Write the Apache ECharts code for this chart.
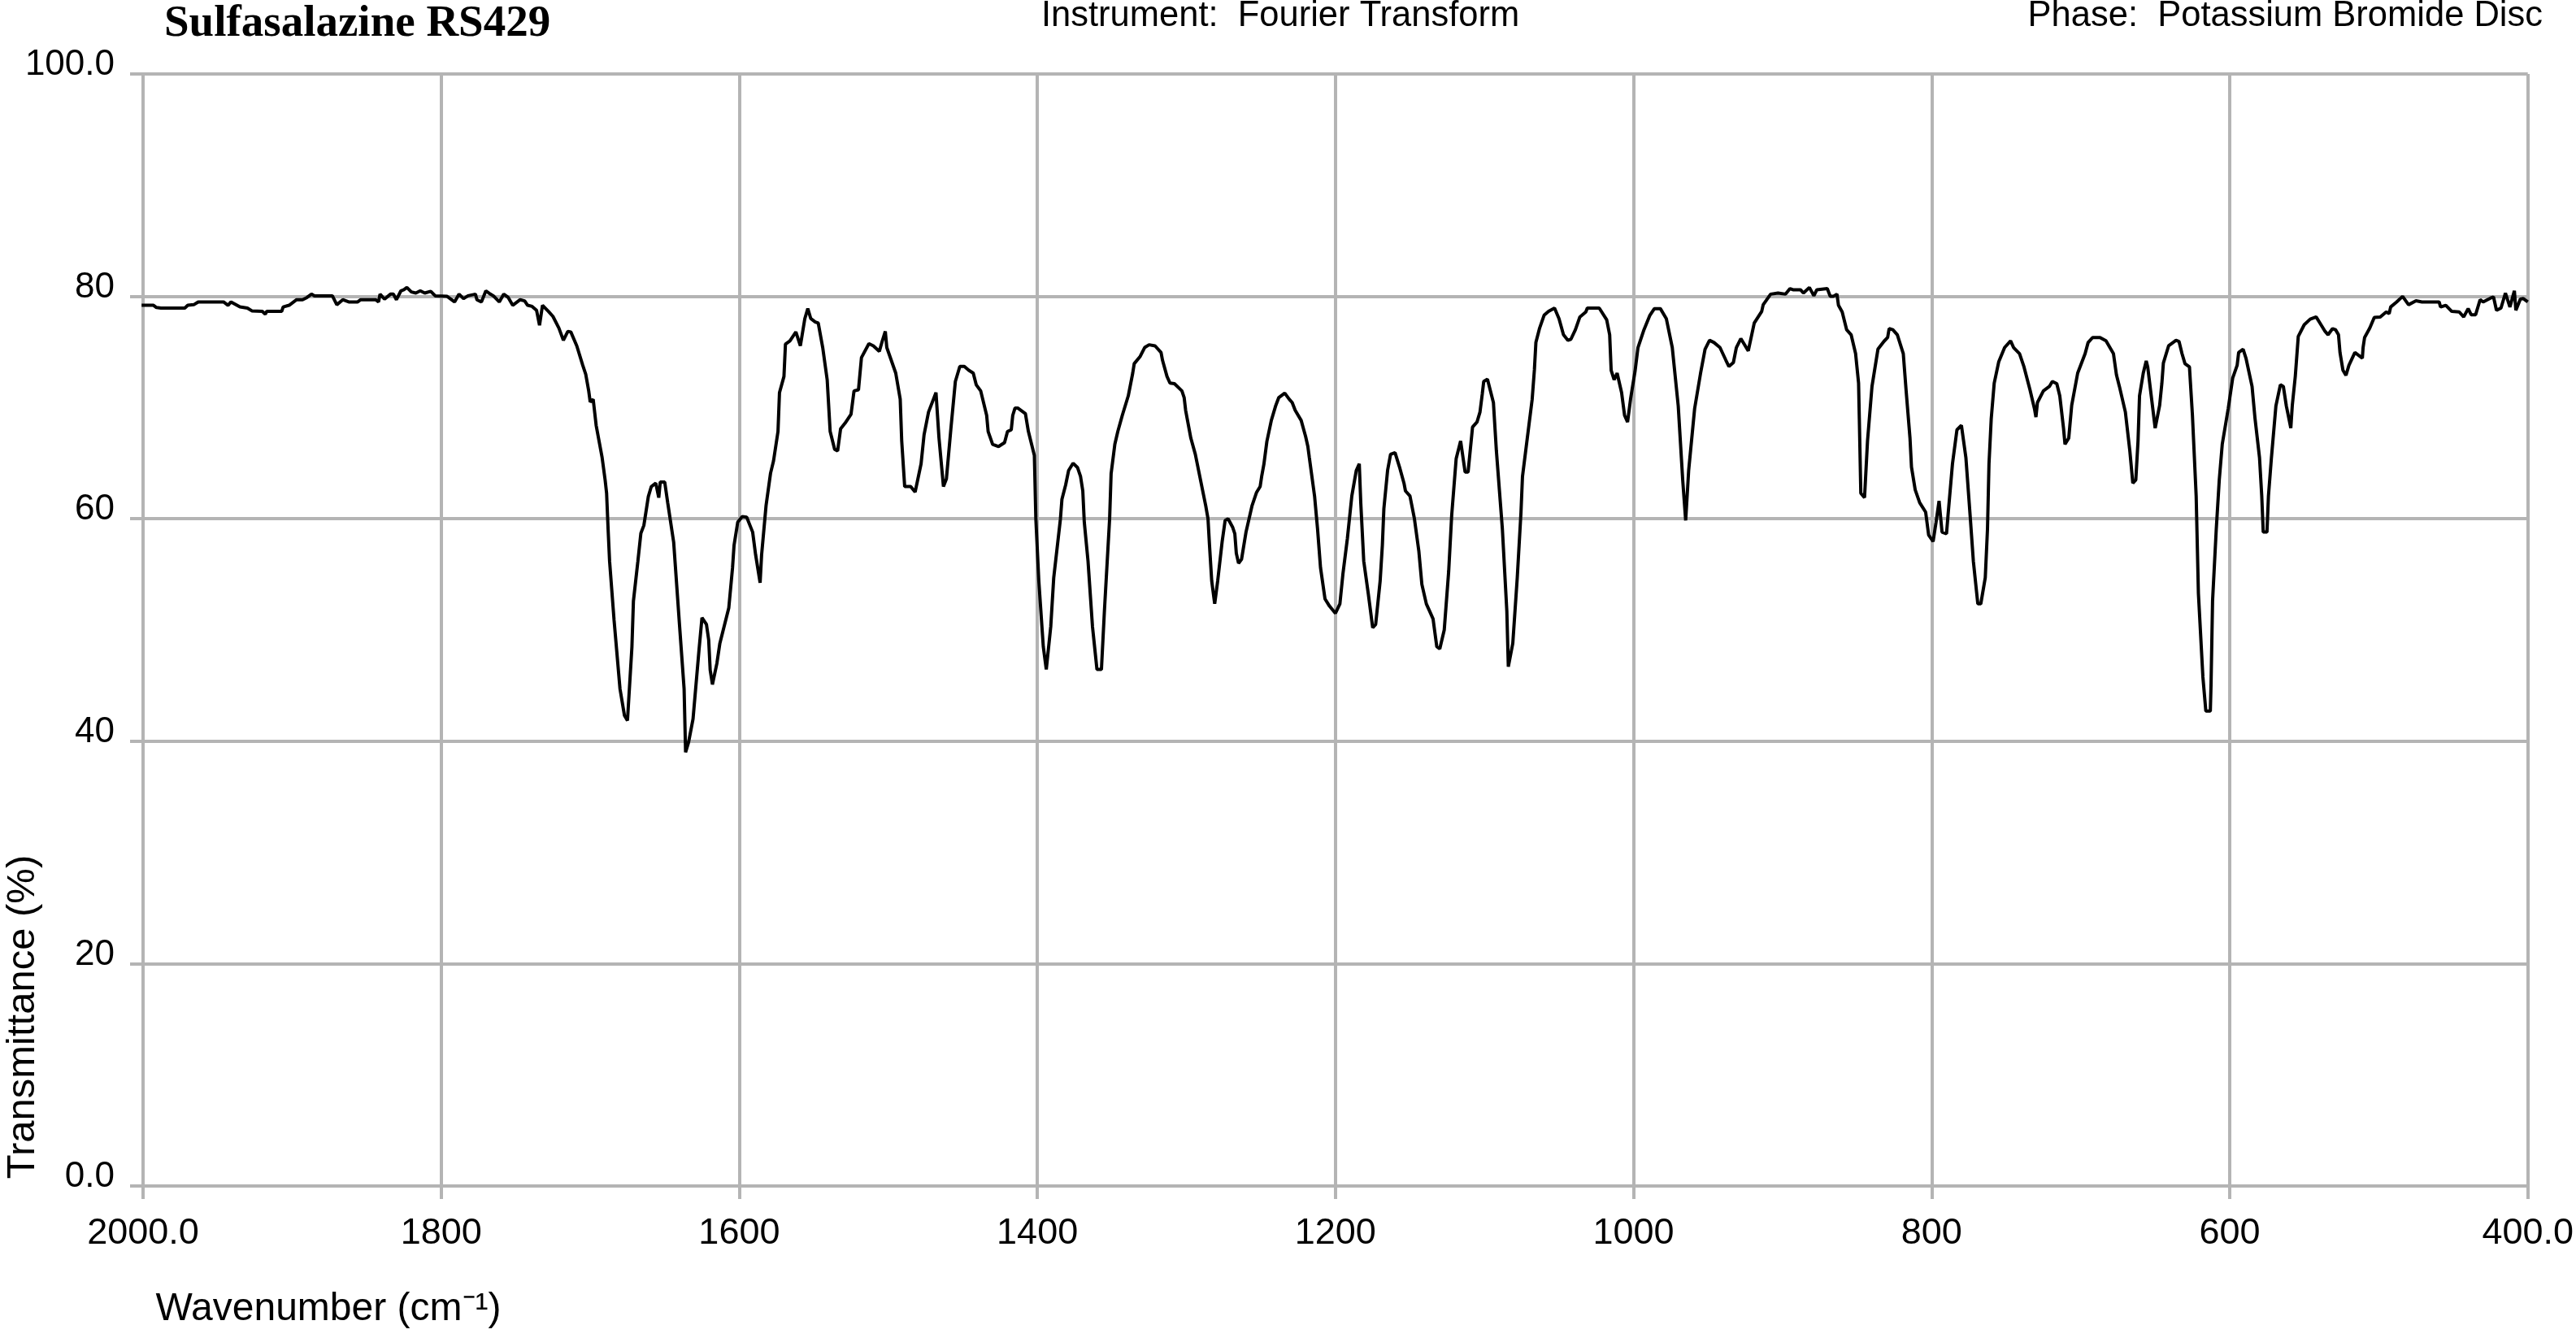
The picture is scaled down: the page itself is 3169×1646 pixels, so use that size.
<!DOCTYPE html>
<html>
<head>
<meta charset="utf-8">
<script src="https://cdn.jsdelivr.net/npm/echarts@6/dist/echarts.min.js"></script>
<style>
html,body{margin:0;padding:0;background:#fff;}
#chart{width:3169px;height:1646px;}
</style>
</head>
<body>
<div id="chart"></div>
<script>
// Wavenumber (cm-1), descending
const wavenumber = [
2001,1993,1991,1988,1972,1970,1966,1963,1946,1943,1941,1935,1930,1927,1920,1918,1917,1907,1906,1902,
1897,1893,1890,1887,1885,1873,1870,1866,1862,1856,1854,1844,1842,1841,1838,1834,1832,1830,1827,1825,
1823,1820,1817,1814,1811,1807,1804,1796,1791,1788,1785,1782,1777,1776,1773,1770,1767,1765,1761,1758,
1755,1752,1747,1744,1742,1739,1736,1734,1732,1728,1725,1721,1718,1715,1713,1709,1705,1703,1701,1700,
1698,1696,1692,1690,1689,1688,1687,1684,1680,1677,1675,1672,1671,1668,1666,1664,1661,1659,1656,1654,
1653,1650,1648,1644,1640,1637,1636,1634,1631,1627,1625,1622,1620.5,1619.5,1618,1615,1613,1607,1604.5,1603.5,
1601,1598,1595,1591,1589,1586,1585,1582,1579,1577,1574,1573,1570,1569,1566,1562,1559,1556,1554,1552,
1549,1547,1544,1541,1539,1536,1534,1532,1529,1525,1523,1520,1518,1513,1510,1506,1504,1502,1501,1495,
1492,1491,1489,1485,1482,1478,1476,1473,1468,1466,1463,1461,1458,1455,1452,1449,1446,1443,1441,1438,
1434,1433,1430,1426,1422,1420,1417.5,1416.5,1415,1413,1408,1406,1402,1401,1399,1396,1394,1391,1389,1384.5,
1383.5,1381,1379,1376,1373,1371,1369.5,1368.5,1366,1363,1360,1357,1355,1351.5,1350.5,1348,1346,1343,1339,1336,
1335,1331,1328,1325,1321,1317,1316,1313,1311,1308,1303,1301.5,1300.5,1297,1294,1291,1287,1285.5,1284.5,1283,
1281,1279,1276,1274,1272,1269,1267.5,1266.5,1265,1263,1260,1256,1253,1250.5,1249.5,1248,1246,1243,1240,1238,
1234,1231,1229,1227,1223,1220,1218.5,1217.5,1214,1212,1210,1207,1204,1200,1197,1195,1192,1189,1186,1184,
1183,1181,1178,1175,1173,1170,1168.5,1167.5,1165,1163,1160,1157,1154,1153,1150,1147,1144,1142,1139,1136,
1134.5,1133.5,1132,1130,1127,1124,1122,1119,1116,1113,1111,1108,1105,1103,1101.5,1100.5,1098,1094,1092,1088,
1085,1084,1081,1078,1075.5,1074.5,1071,1068,1066.5,1065.5,1063,1060,1057,1053,1050,1047,1044,1042,1039,1036,
1032,1031,1023,1018,1016,1015,1013,1011,1008,1006,1004,1002,999,997,993,989,986,982,978,974,
970,967,965,963,959,955,952,949,946,942,938,936,933,931,928,923,919,914,913,908,
903,898,895,893,888,886,882,879,877,870,868,866,863.5,862.5,860,857,854,851,849,848.5,
847.5,845,843,840,836,832,829.5,828.5,826,823,819,817,814.5,813.5,811,808,804,802,799,797,
795,793,790,789,786,783,780,777,774,772,769,767,764,762.5,761.5,760,758,755,751,747,
745,741,738,734,731,730,729,725,721,719,716,714,711.5,710.5,708,706,702,697,695,692,
687,683,678,676,674,670,667,665,663,661.5,660.5,658,656,655,650,647,645.5,644.5,641,636,
634,632,630,627,625,622.5,621,618,616,613,612.5,611.5,609,607,605,601,598,595,594,591,
589,585,583,580,578.5,577.5,575,574,572,569,566,564,562,559,558,556,554,550,546,542,
539,536,534,531,529,527,526,524,522,520,516,511,510.5,509.5,506,503,499,495,493,492,
488,484,480,475,471,470,459.5,458.5,455,451,446,443,440,438,435,432,430,425,423,421,
418,415,412,409,408,405,403,400
];
// Transmittance (%)
const transmittance = [
79.2,79.2,79.0,78.95,78.95,79.2,79.25,79.5,79.5,79.2,79.5,79.05,78.95,78.7,78.65,78.4,78.65,78.65,79.05,79.2,
79.7,79.7,79.9,80.2,80.05,80.05,79.25,79.7,79.5,79.5,79.7,79.7,79.5,80.2,79.75,80.2,80.2,79.7,80.5,80.6,
80.8,80.4,80.3,80.5,80.3,80.45,80.05,80.0,79.5,80.2,79.8,80.05,80.2,79.7,79.5,80.5,80.2,80.05,79.5,80.2,
79.9,79.2,79.7,79.6,79.2,79.1,78.75,77.4,79.2,78.65,78.2,77.15,76.05,76.85,76.8,75.55,73.8,73.0,71.5,70.5,
70.75,68.4,65.5,63.5,62.3,59.1,56.2,50.9,44.7,42.3,41.85,48.5,52.6,56.2,58.7,59.4,62.0,62.9,63.2,61.9,
63.3,63.3,61.45,57.9,50.3,44.7,39.0,39.9,42.0,48.2,51.1,50.5,49.1,46.4,45.1,47.0,48.8,52.0,55.6,57.6,
59.7,60.2,60.15,58.8,56.75,54.25,56.75,61.2,64.1,65.2,67.85,71.35,72.8,75.7,76.0,76.8,75.55,78.0,78.9,78.0,
77.7,77.6,75.4,72.5,67.85,66.25,66.1,68.1,68.6,69.4,71.5,71.6,74.5,75.75,75.55,75.05,76.0,76.85,75.4,73.1,
70.75,67.0,62.9,62.9,62.4,64.95,67.55,69.6,71.35,67.3,62.9,63.6,68.1,72.35,73.7,73.7,73.35,73.1,72.05,71.5,
69.3,67.85,66.7,66.5,66.85,67.85,68.0,69.3,69.95,69.95,69.45,67.85,65.7,60.0,54.4,48.5,46.45,50.3,54.7,60.0,
61.75,63.05,64.35,65.0,64.6,63.8,62.5,59.7,56.2,50.3,46.45,46.45,51.7,60.0,64.05,66.7,67.85,69.3,71.05,73.1,
73.95,74.6,75.4,75.65,75.55,74.95,74.25,72.8,72.2,72.15,71.5,70.9,69.75,67.25,65.8,63.8,61.15,60.0,57.65,54.4,
52.35,54.4,57.95,59.85,60.0,59.25,58.65,56.9,56.0,56.35,58.8,61.15,62.35,62.9,63.8,64.9,66.95,68.85,70.2,70.9,
71.3,70.75,70.45,69.75,68.85,67.4,66.5,65.5,62.05,59.1,55.6,52.8,52.15,51.5,52.35,55.0,58.2,62.05,64.35,64.95,
61.45,56.2,53.3,50.2,50.5,54.4,57.65,60.9,64.35,65.8,65.95,64.65,63.2,62.5,62.05,60.0,57.05,54.1,52.35,51.45,
51.0,50.0,48.5,48.3,50.0,55.3,60.3,65.4,67.0,64.2,64.2,68.25,68.7,69.6,71.2,72.35,72.55,70.45,66.1,59.1,
51.7,46.7,48.8,54.7,60.6,63.8,67.55,70.75,73.4,75.85,77.15,78.3,78.65,78.95,78.0,76.55,76.05,76.15,77.0,78.15,
78.6,78.95,78.95,77.9,76.55,73.35,72.5,73.1,71.35,69.3,68.7,70.75,73.25,75.4,77.0,78.3,78.9,78.9,78.0,75.4,
70.15,63.5,59.85,64.35,69.9,73.1,75.25,76.05,75.85,75.4,74.25,73.7,74.05,75.4,76.2,75.1,77.6,78.65,79.25,80.2,
80.3,80.2,80.7,80.6,80.6,80.3,80.8,80.05,80.6,80.7,80.0,80.0,80.2,79.2,78.6,77.0,76.55,74.85,72.2,69.0,
62.3,61.9,67.0,71.9,75.25,75.95,76.3,77.1,77.0,76.55,74.85,71.35,67.25,64.65,62.6,61.45,60.6,58.55,57.95,59.7,
61.6,58.8,58.65,60.3,64.95,68.0,68.4,65.5,60.0,56.2,52.35,52.35,54.7,59.1,64.95,69.0,72.2,74.1,75.4,76.0,
75.4,74.85,73.65,71.6,69.9,69.15,70.45,71.5,71.9,72.35,72.15,71.05,68.15,66.7,67.25,70.2,73.1,74.85,75.85,76.3,
76.3,76.0,74.85,72.95,71.9,69.6,66.1,63.2,63.5,67.0,71.05,73.1,74.2,73.65,68.15,70.2,72.2,74.0,75.55,76.05,
75.95,74.85,73.95,73.65,69.3,62.05,53.3,45.8,42.7,42.7,45.2,52.6,59.1,63.5,66.7,69.9,72.65,73.8,74.95,75.25,
74.4,71.9,69.0,65.5,62.05,58.8,58.8,62.05,65.5,70.15,72.05,71.9,70.15,68.15,70.2,72.8,76.4,77.45,77.95,78.15,
77.5,76.85,76.55,77.1,77.0,76.55,74.95,73.35,72.9,73.8,74.95,74.45,75.4,76.3,77.15,78.1,78.15,78.6,78.45,79.05,
79.5,80.0,79.25,79.6,79.5,79.6,79.5,79.05,79.2,78.65,78.6,78.15,78.9,78.35,78.35,79.7,79.5,79.85,79.95,78.75,
78.95,80.3,79.05,80.5,78.75,79.75,79.8,79.5
];
const xTickLabels = {2000:'2000.0',1800:'1800',1600:'1600',1400:'1400',1200:'1200',1000:'1000',800:'800',600:'600',400:'400.0'};
const yTickLabels = {0:'0.0',20:'20',40:'40',60:'60',80:'80',100:'100.0'};

const seriesData = wavenumber.map((w,i)=>[w, transmittance[i]]);
const gray = '#b4b4b4';
const sans = '"Liberation Sans", Arial, Helvetica, sans-serif';

const chart = echarts.init(document.getElementById('chart'), null, {renderer:'canvas'});
chart.setOption({
  animation:false,
  backgroundColor:'#ffffff',
  grid:{left:176,right:55,top:91,bottom:187,containLabel:false},
  xAxis:{
    type:'value', inverse:true, min:400, max:2000, interval:200,
    axisLine:{show:true,lineStyle:{color:gray,width:4}},
    axisTick:{show:true,length:16,lineStyle:{color:gray,width:4}},
    splitLine:{show:true,lineStyle:{color:gray,width:4}},
    axisLabel:{margin:36,fontSize:45,fontFamily:sans,color:'#000',
      formatter:v=>xTickLabels[v]!==undefined?xTickLabels[v]:String(v)}
  },
  yAxis:{
    type:'value', min:0, max:100, interval:20,
    axisLine:{show:true,lineStyle:{color:gray,width:4}},
    axisTick:{show:true,length:16,lineStyle:{color:gray,width:4}},
    splitLine:{show:true,lineStyle:{color:gray,width:4}},
    axisLabel:{margin:35,fontSize:44,fontFamily:sans,color:'#000',verticalAlign:'bottom',lineHeight:22,
      formatter:v=>yTickLabels[v]!==undefined?yTickLabels[v]:String(v)}
  },
  series:[{
    type:'line', data:seriesData, showSymbol:false, symbol:'none',
    lineStyle:{color:'#000',width:4}, smooth:false, z:5
  }],
  graphic:[
    {type:'text',x:202,y:30,style:{text:'Sulfasalazine RS429',fontSize:55,fontWeight:'bold',fontFamily:'"Liberation Serif","Times New Roman",serif',fill:'#000',align:'left',verticalAlign:'middle'}},
    {type:'text',x:1281,y:20,style:{text:'Instrument:  Fourier Transform',fontSize:43.5,fontFamily:sans,fill:'#000',align:'left',verticalAlign:'middle'}},
    {type:'text',x:3128,y:20,style:{text:'Phase:  Potassium Bromide Disc',fontSize:43.5,fontFamily:sans,fill:'#000',align:'right',verticalAlign:'middle'}},
    {type:'text',x:404,y:1611,style:{text:'Wavenumber (cm\u207B\u00B9)',fontSize:48,fontFamily:sans,fill:'#000',align:'center',verticalAlign:'middle'}},
    {type:'text',x:28,y:1251,rotation:Math.PI/2,style:{text:'Transmittance (%)',fontSize:49,fontFamily:sans,fill:'#000',align:'center',verticalAlign:'middle'}}
  ]
});
</script>
</body>
</html>
